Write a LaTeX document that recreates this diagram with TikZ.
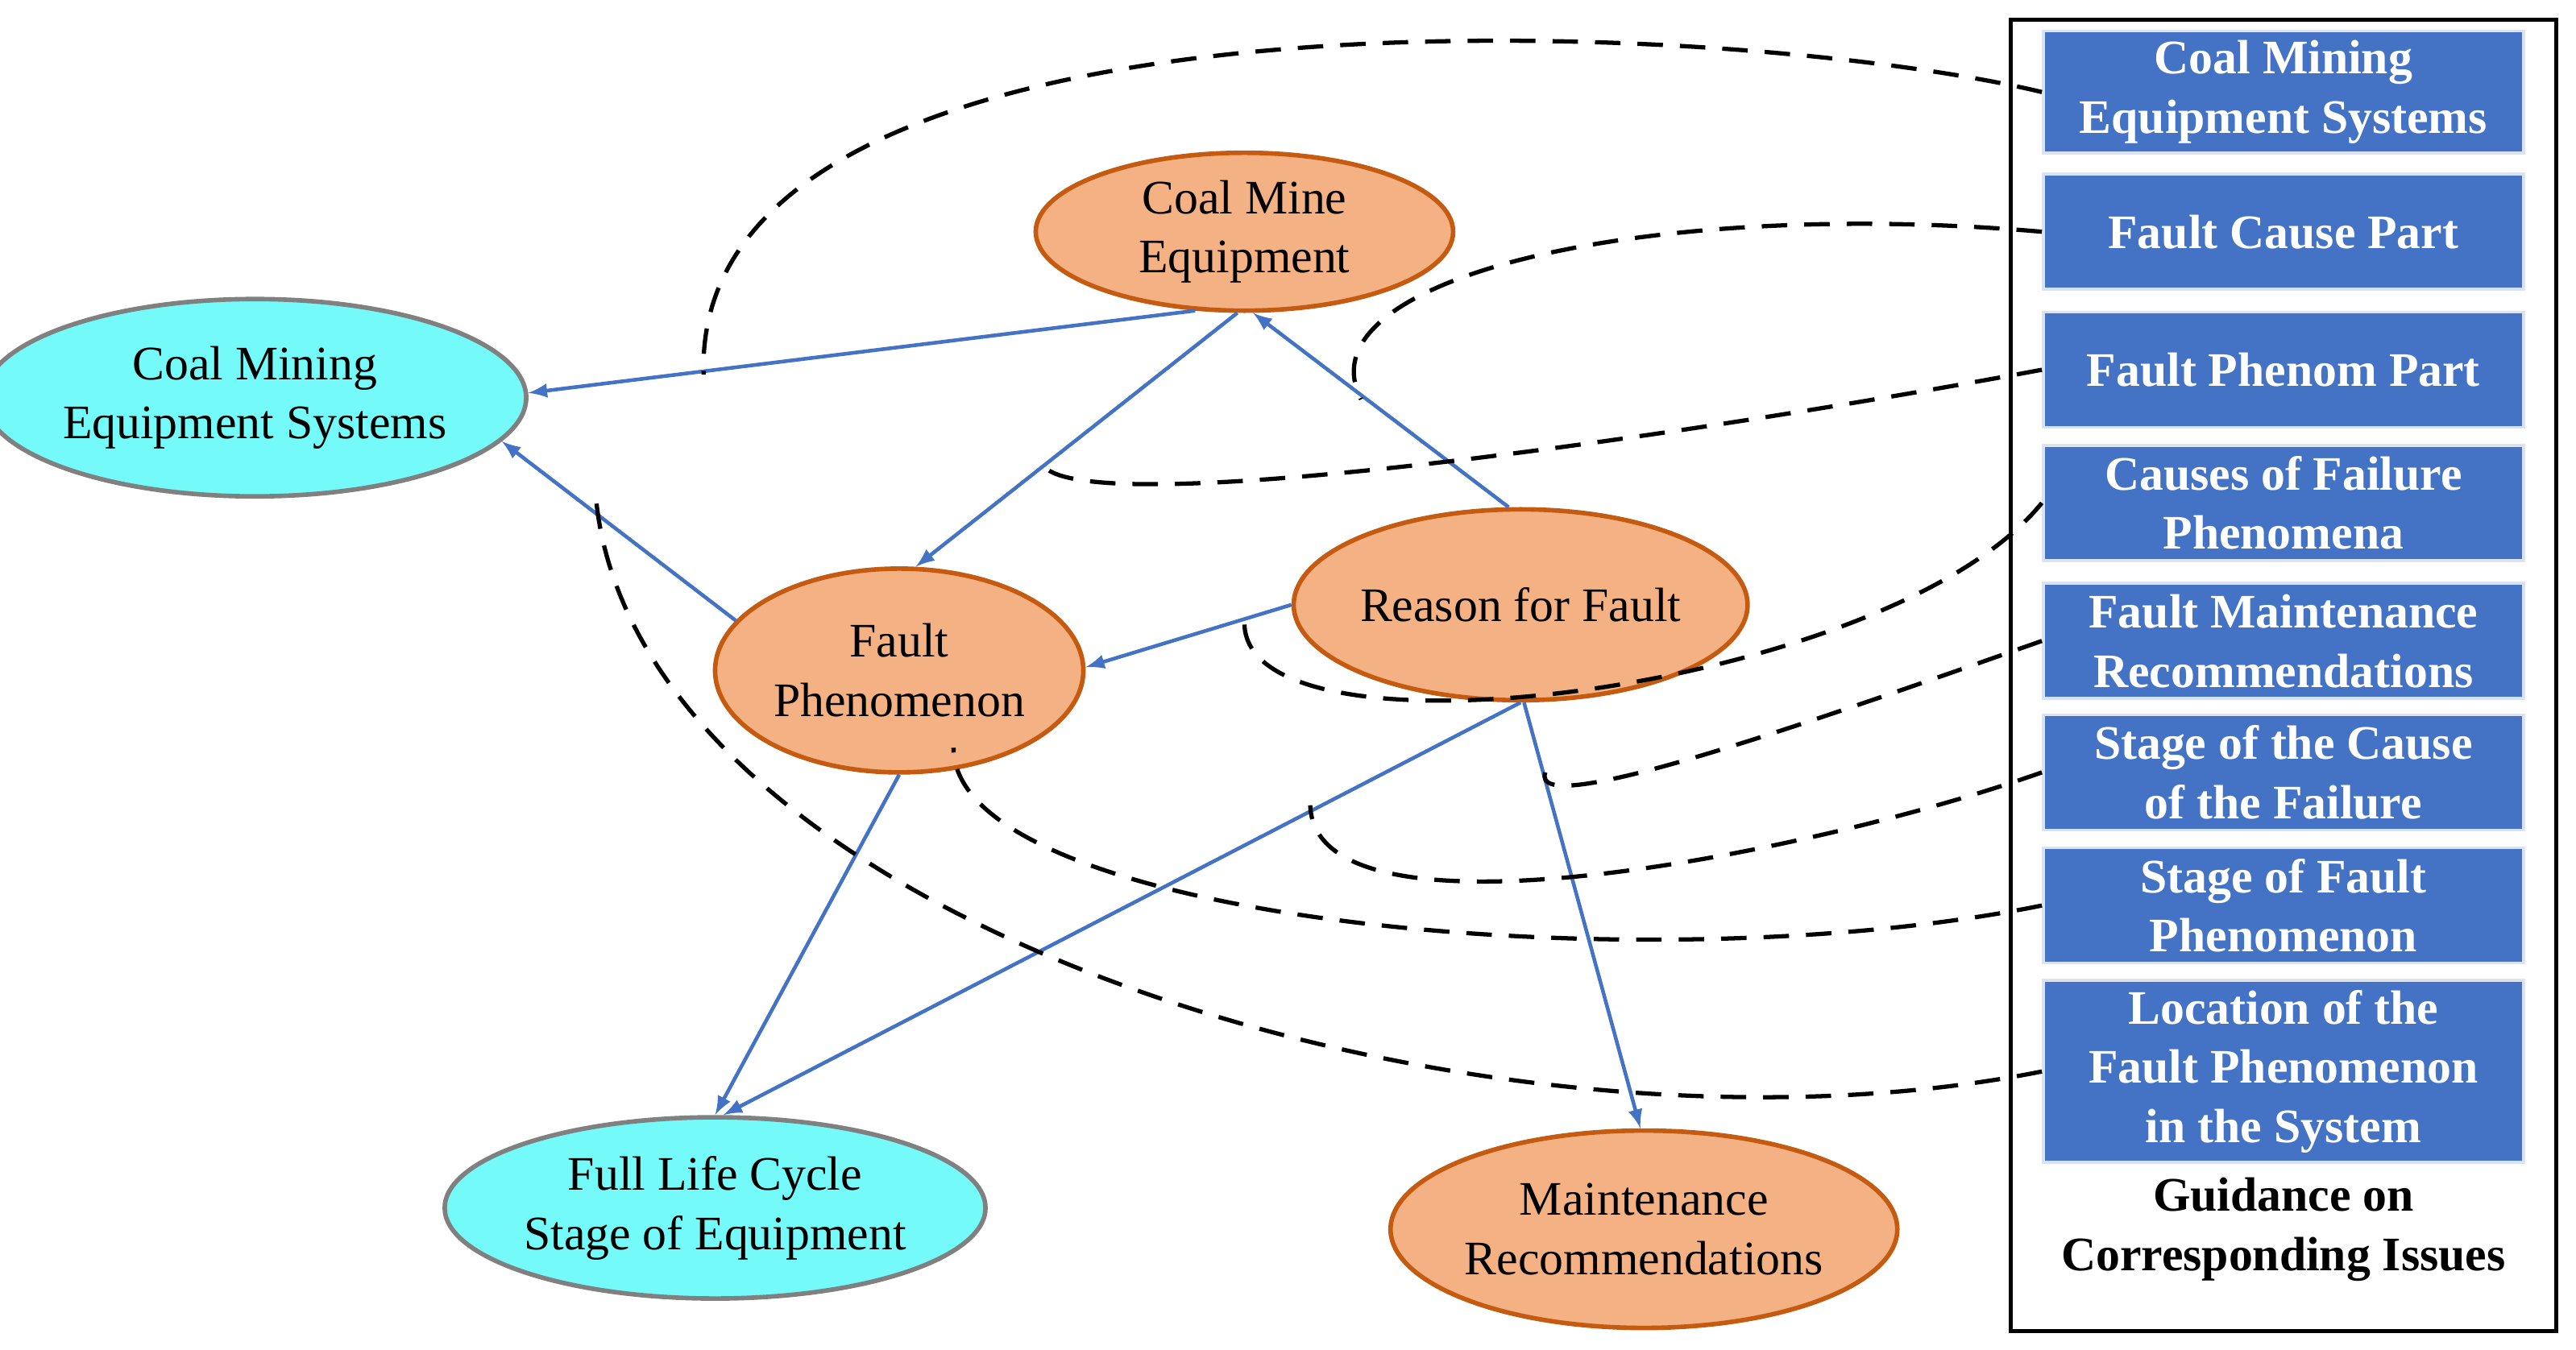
\documentclass[tikz,border=0pt]{standalone}
\usepackage{fontspec}
\setmainfont{Liberation Serif}
\usetikzlibrary{shapes.geometric}
\definecolor{cyanfill}{HTML}{75FAFA}
\definecolor{orfill}{HTML}{F4B183}
\definecolor{ordraw}{HTML}{C55A11}
\definecolor{linkblue}{HTML}{4472C4}
\tikzset{
  cyannode/.style={ellipse,draw=gray,line width=1.6pt,fill=cyanfill,align=center,inner sep=0pt},
  ornode/.style={ellipse,draw=ordraw,line width=1.6pt,fill=orfill,align=center,inner sep=0pt},
  guide/.style={fill=linkblue,draw=white!80!linkblue,line width=1pt,minimum width=5.96cm,minimum height=1.43cm,
    text=white,font=\fontsize{17}{21}\selectfont\bfseries,align=center},
  link/.style={-latex,draw=linkblue,line width=1.3pt},
  hint/.style={dashed,line width=1.5pt,dash pattern=on 9pt off 6pt}
}
\begin{document}
\begin{tikzpicture}[x=0.0204cm,y=-0.0204cm,font=\fontsize{17}{21}\selectfont]
\useasboundingbox (0,0) rectangle (1567,821);
% graph nodes
\node[cyannode,minimum width=5.92cm,minimum height=2.45cm] (sys) at (155,242) {Coal Mining\\Equipment Systems};
\node[cyannode,minimum width=6.65cm,minimum height=2.25cm] (life) at (435,735) {Full Life Cycle\\Stage of Equipment};
\node[ornode,minimum width=5.18cm,minimum height=1.96cm] (equip) at (757,141) {Coal Mine\\Equipment};
\node[ornode,minimum width=4.57cm,minimum height=2.53cm] (phen) at (547,408) {Fault\\Phenomenon};
\node[ornode,minimum width=4.57cm,minimum height=2.37cm] (reason) at (925,368) {Reason for Fault};
\node[ornode,minimum width=5.3cm,minimum height=2.45cm] (maint) at (1000,748) {Maintenance\\Recommendations};

% guidance column
\node[draw,line width=1.5pt,minimum width=6.77cm,minimum height=16.28cm] (frame) at (1389,411) {};
\node[guide] (g1) at (1389,56) {Coal Mining\\Equipment Systems};
\node[guide] (g2) at (1389,141) {Fault Cause Part};
\node[guide] (g3) at (1389,225) {Fault Phenom Part};
\node[guide] (g4) at (1389,306) {Causes of Failure\\Phenomena};
\node[guide] (g5) at (1389,390) {Fault Maintenance\\Recommendations};
\node[guide] (g6) at (1389,470) {Stage of the Cause\\of the Failure};
\node[guide] (g7) at (1389,551) {Stage of Fault\\Phenomenon};
\node[guide,minimum height=2.22cm] (g8) at (1389,652) {Location of the\\Fault Phenomenon\\in the System};
\node[font=\fontsize{17}{21}\selectfont\bfseries,align=center] (cap) at (1389,748) {Guidance on\\Corresponding Issues};

% relations
\draw[link] (equip.238) -- (sys.1);
\draw[link] (equip.265) -- (phen.81);
\draw[link] (reason.97) -- (equip.276);
\draw[link] (phen.163) -- (sys.350);
\draw[link] (reason.180) -- (phen.1);
\draw[link] (phen.270) -- (life.90);
\draw[link] (reason.270) -- (life.85);
\draw[link] (reason.272) -- (maint.92);

% dashed hints
\coordinate (h1) at (428,228);
\coordinate (h2) at (828,243);
\coordinate (h3) at (633,280);
\coordinate (h4) at (757,380);
\coordinate (h5) at (940,470);
\coordinate (h6) at (797,490);
\coordinate (h7) at (580,455);
\coordinate (h8) at (362,297);
\draw[hint] (g1.west) .. controls (1050,10) and (420,-20) .. (h1);
\draw[hint] (g2.west) .. controls (1000,120) and (790,170) .. (h2);
\draw[hint] (g3.west) .. controls (1000,270) and (640,320) .. (h3);
\draw[hint] (g4.west) .. controls (1150,420) and (760,470) .. (h4);
\draw[hint] (g5.west) .. controls (1100,440) and (930,500) .. (h5);
\draw[hint] (g6.west) .. controls (1100,520) and (800,580) .. (h6);
\draw[hint] (g7.west) .. controls (1000,600) and (580,560) .. (h7);
\draw[hint] (g8.west) .. controls (900,720) and (380,560) .. (h8);
\end{tikzpicture}
\end{document}
